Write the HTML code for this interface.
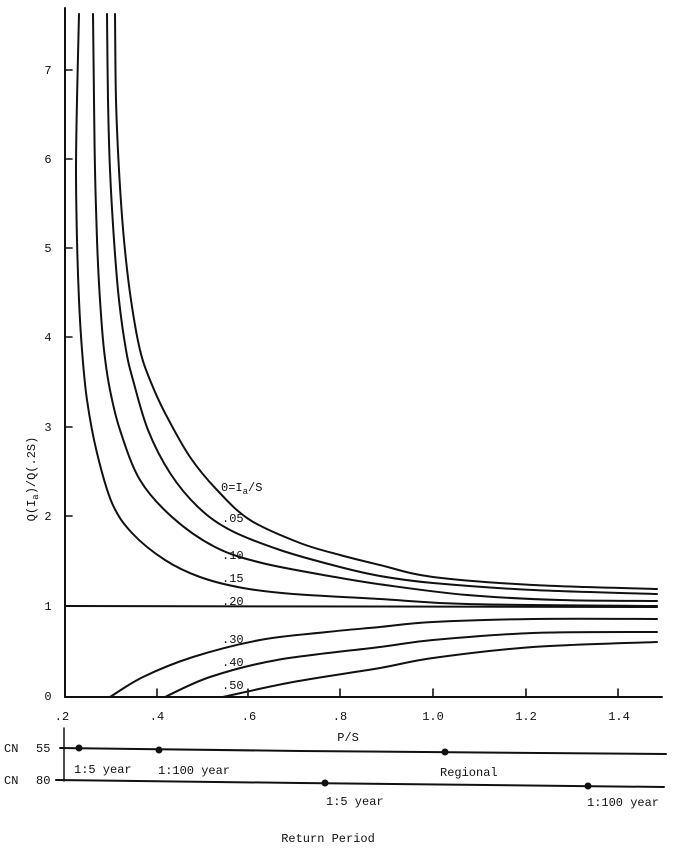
<!DOCTYPE html>
<html><head><meta charset="utf-8"><style>
html,body{margin:0;padding:0;background:#fff;}
svg{display:block}
text{font-family:"Liberation Mono",monospace;font-size:12px;fill:#111}
</style></head><body>
<svg id="s" width="688" height="855" viewBox="0 0 688 855" xmlns="http://www.w3.org/2000/svg">
<g stroke="#111" fill="none" stroke-width="2" stroke-linejoin="round" stroke-linecap="round">
<line x1="65" y1="8" x2="65" y2="697"/>
<line x1="65" y1="697" x2="662" y2="697"/>
<g stroke-width="1.6">
<line x1="65" y1="70" x2="72" y2="70"/><line x1="65" y1="159" x2="72" y2="159"/>
<line x1="65" y1="248" x2="72" y2="248"/><line x1="65" y1="337" x2="72" y2="337"/>
<line x1="65" y1="427" x2="72" y2="427"/><line x1="65" y1="516" x2="72" y2="516"/>
<line x1="157" y1="697" x2="157" y2="689"/><line x1="248" y1="697" x2="248" y2="689"/>
<line x1="340" y1="697" x2="340" y2="689"/><line x1="433" y1="697" x2="433" y2="689"/>
<line x1="526" y1="697" x2="526" y2="689"/><line x1="618" y1="697" x2="618" y2="689"/>
</g>
<path id="c0"/><path id="c1"/><path id="c2"/><path id="c3"/>
<path id="c4"/><path id="c5"/><path id="c6"/>
<line x1="65" y1="606" x2="657" y2="607"/>
<line x1="64" y1="728" x2="64" y2="781" stroke-width="1.5"/>
<polyline points="60,748 300,751 666,754"/>
<polyline points="56,780 300,783 664,787"/>
</g>
<g fill="#111">
<circle cx="79" cy="748" r="3.5"/><circle cx="159" cy="750" r="3.5"/><circle cx="445" cy="752" r="3.5"/>
<circle cx="325" cy="783" r="3.5"/><circle cx="588" cy="786" r="3.5"/>
</g>
<g text-anchor="middle">
<text x="48" y="74">7</text><text x="48" y="163">6</text><text x="48" y="252">5</text>
<text x="48" y="341">4</text><text x="48" y="431">3</text><text x="48" y="520">2</text>
<text x="48" y="610">1</text><text x="48" y="700">0</text>
<text x="62" y="720">.2</text><text x="157" y="720">.4</text><text x="249" y="720">.6</text>
<text x="340" y="720">.8</text><text x="433" y="720">1.0</text><text x="526" y="720">1.2</text>
<text x="619" y="720">1.4</text>
<text x="348" y="741">P/S</text>
<text x="328" y="842">Return Period</text>
</g>
<text transform="translate(35,479) rotate(-90)" text-anchor="middle">Q(I<tspan font-size="9" baseline-shift="-3">a</tspan>)/Q(.2S)</text>
<text x="221" y="491">0=I<tspan font-size="9" baseline-shift="-3">a</tspan>/S</text>
<text x="222" y="522">.05</text>
<text x="222" y="559">.10</text>
<text x="222" y="582">.15</text>
<text x="222" y="605">.20</text>
<text x="222" y="643">.30</text>
<text x="222" y="666">.40</text>
<text x="222" y="689">.50</text>
<text x="4" y="752">CN</text><text x="36" y="752">55</text>
<text x="4" y="784">CN</text><text x="36" y="784">80</text>
<text x="74" y="773">1:5 year</text>
<text x="158" y="774">1:100 year</text>
<text x="440" y="776">Regional</text>
<text x="326" y="805">1:5 year</text>
<text x="587" y="806">1:100 year</text>
</svg>
<script>
var D=[
[115,14,116,100,119,170,124,240,131,300,140,350,150,380,165,413,190,457,217,490,250,520,300,543,340,555,380,565,433,577,533,585,657,589],
[107,14,108,100,110,170,114,240,119,300,126,350,133,380,148,430,170,473,198,507,230,530,280,550,340,567,380,576,433,583,533,590,657,594],
[93,14,94,100,95,170,97,240,100,300,104,350,110,390,120,430,140,480,172,517,215,547,262,563,335,577,385,585,467,595,560,600,657,601],
[79,14,77,100,76,170,77,240,79,300,82,350,87,400,97,453,112,503,132,533,165,560,200,577,243,588,293,594,380,599,467,604,657,606],
[110,697,143,677,193,657,260,640,327,632,380,627,433,622,533,619,657,619],
[165,697,210,677,277,660,380,647,433,640,533,633,657,632],
[223,697,293,682,380,668,433,658,533,647,657,642]];
D.forEach(function(a,k){var p=[];for(var i=0;i<a.length;i+=2)p.push([a[i],a[i+1]]);
var d="M"+p[0][0]+","+p[0][1];
for(var i=0;i<p.length-1;i++){var p0=p[Math.max(i-1,0)],p1=p[i],p2=p[i+1],p3=p[Math.min(i+2,p.length-1)];
d+=" C"+(p1[0]+(p2[0]-p0[0])/6).toFixed(1)+","+(p1[1]+(p2[1]-p0[1])/6).toFixed(1)+" "+(p2[0]-(p3[0]-p1[0])/6).toFixed(1)+","+(p2[1]-(p3[1]-p1[1])/6).toFixed(1)+" "+p2[0]+","+p2[1];}
document.getElementById("c"+k).setAttribute("d",d);});
</script>
</body></html>
